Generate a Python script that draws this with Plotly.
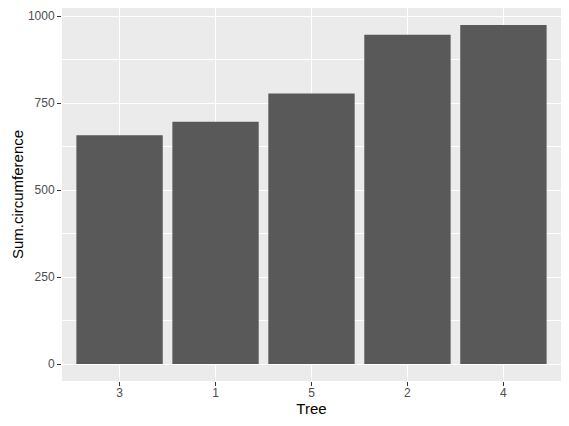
import plotly.graph_objects as go

trees = ["3", "1", "5", "2", "4"]
sum_circ = [658, 697, 778, 947, 975]

fig = go.Figure(go.Bar(x=trees, y=sum_circ, marker=dict(color="#595959", line=dict(width=0)),
                       width=0.9))

font = "Liberation Sans, Arial, sans-serif"
fig.update_layout(
    width=561, height=418,
    margin=dict(l=54, r=8, t=0, b=45, autoexpand=False),
    paper_bgcolor="white", plot_bgcolor="#EBEBEB",
    font=dict(family=font, color="#4D4D4D", size=12),
    showlegend=False,
)
fig.update_xaxes(
    type="category", categoryorder="array", categoryarray=trees,
    range=[-0.6, 4.6], automargin=False,
    showgrid=True, gridcolor="white", gridwidth=1.1,
    ticks="outside", ticklen=4, tickcolor="#333333", tickwidth=1,
    ticklabelstandoff=-3,
    tickfont=dict(size=12, color="#4D4D4D"),
    title=dict(text="Tree", font=dict(size=15, color="black"), standoff=3),
    zeroline=False, showline=False,
)
fig.update_yaxes(
    range=[-48.75, 1023.75], automargin=False,
    tickmode="linear", tick0=0, dtick=250,
    showgrid=True, gridcolor="white", gridwidth=1.1,
    minor=dict(showgrid=True, gridcolor="white", gridwidth=0.5, tick0=125, dtick=250),
    ticks="outside", ticklen=4, tickcolor="#333333", tickwidth=1,
    tickfont=dict(size=12, color="#4D4D4D"),
    title=dict(text="Sum.circumference", font=dict(size=15, color="black"), standoff=0),
    zeroline=False, showline=False,
)
fig.write_html("out.html")
